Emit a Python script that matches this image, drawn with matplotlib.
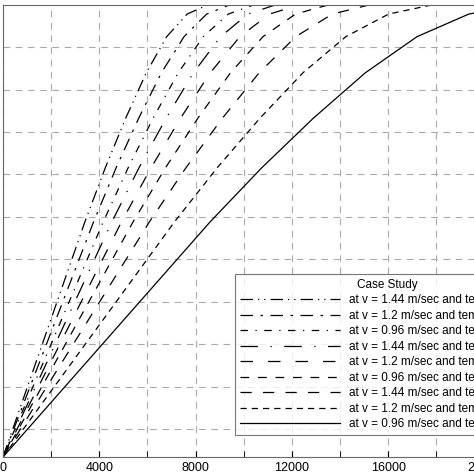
import numpy as np
import matplotlib
matplotlib.use("Agg")
import matplotlib.pyplot as plt
from matplotlib.ticker import MultipleLocator

plt.rcParams['font.family'] = ['Liberation Sans', 'DejaVu Sans']

labels = ["at v = 1.44 m/sec and temp = 45 °C",
          "at v = 1.2 m/sec and temp = 45 °C",
          "at v = 0.96 m/sec and temp = 45 °C",
          "at v = 1.44 m/sec and temp = 40 °C",
          "at v = 1.2 m/sec and temp = 40 °C",
          "at v = 0.96 m/sec and temp = 40 °C",
          "at v = 1.44 m/sec and temp = 35 °C",
          "at v = 1.2 m/sec and temp = 35 °C",
          "at v = 0.96 m/sec and temp = 35 °C"]
end_times = [8500, 9400, 10400, 11300, 12300, 13500, 15200, 17800, 21500]
profile_u = [0, .1, .2, .3, .4, .5, .6, .7, .8, .9, 1.0, 1.5]
profile_v = [0, .13, .26, .39, .52, .64, .75, .85, .93, .98, 1.0, 1.0]
styles = [(0, (10, 4, 1, 4, 1, 4)), (0, (10, 6, 2, 6)), (0, (6, 6, 1, 6)),
          (0, (14, 10, 1, 10)), (0, (10, 12)), (0, (7, 7)),
          (0, (9, 9)), (0, (5, 4)), '-']

fig = plt.figure(figsize=(4.74, 4.74), dpi=100)
ax = fig.add_axes([3/474, 17/474, 520/474, 452/474])
for lab, T, st in zip(labels, end_times, styles):
    t = np.array(profile_u) * T
    ax.plot(t, np.array(profile_v) * 100, color='black', lw=0.9, linestyle=st, label=lab)

ax.set_xlim(0, 21600)
ax.set_ylim(0, 100)
ax.xaxis.set_major_locator(MultipleLocator(4000))
ax.xaxis.set_minor_locator(MultipleLocator(2000))
ax.set_yticks([100 - 9.3 - 9.4*k for k in range(10)])
ax.set_yticklabels([])
ax.tick_params(axis='y', length=0)
ax.tick_params(axis='x', which='both', direction='in', length=4, labelsize=9)
ax.grid(True, which='both', axis='x', color='#aaaaaa', linestyle=(0, (6, 5)), lw=0.8)
ax.grid(True, which='major', axis='y', color='#aaaaaa', linestyle=(0, (6, 5)), lw=0.8)
ax.set_xlabel("Time (Sec)", fontsize=8.5, fontweight='bold', labelpad=0)
ax.xaxis.set_label_coords(0.55, -0.045)
for s in ax.spines.values():
    s.set_color('#666666')

leg = ax.legend(loc='upper left', bbox_to_anchor=(229/474, 1 - 268/474),
                bbox_transform=fig.transFigure, title="Case Study", fontsize=8.5,
                title_fontsize=8.5, frameon=True, fancybox=False, edgecolor='#555555',
                handlelength=8.5, labelspacing=0.3, borderpad=0.4)
leg.get_frame().set_linewidth(0.8)
fig.savefig("out.png", dpi=100)
